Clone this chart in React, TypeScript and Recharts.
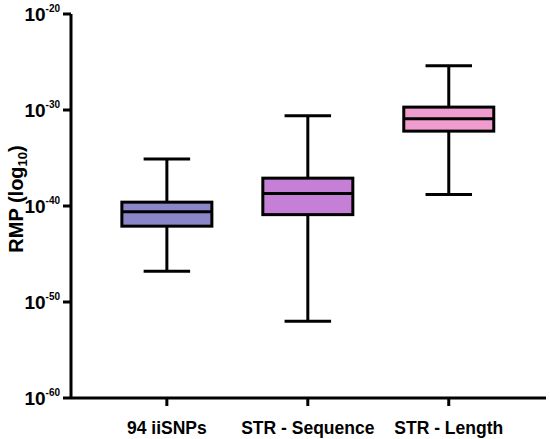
import React from 'react';
import { ComposedChart, Bar, XAxis, YAxis } from 'recharts';

const categories = ['94 iiSNPs', 'STR - Sequence', 'STR - Length'];
const positions = [1, 2, 3];
const mins = [-46.8, -52.0, -38.8];
const q1s = [-42.1, -40.9, -32.2];
const medians = [-40.6, -38.7, -30.9];
const q3s = [-39.6, -37.1, -29.7];
const maxs = [-35.1, -30.6, -25.4];
const colors = ['#8a86c8', '#c67fd6', '#f09ccf'];
const yTicks = [-60, -50, -40, -30, -20];

const data = categories.map((c, i) => ({
  name: c,
  pos: positions[i],
  range: [mins[i], maxs[i]],
  min: mins[i],
  q1: q1s[i],
  median: medians[i],
  q3: q3s[i],
  max: maxs[i],
  color: colors[i],
}));

const FONT = 'Liberation Sans, Arial, sans-serif';

const BoxShape = (props: any) => {
  const { x, y, width, height, payload } = props;
  const top = Math.min(y, y + height);
  const h = Math.abs(height);
  const bottom = top + h;
  const p = payload;
  const span = p.max - p.min;
  const toPx = (v: number) => bottom - ((v - p.min) / span) * h;
  const cx = x + width / 2;
  const capHalf = width / 4;
  const yQ3 = toPx(p.q3);
  const yQ1 = toPx(p.q1);
  const yMed = toPx(p.median);
  return (
    <g>
      <line x1={cx} x2={cx} y1={top} y2={yQ3} stroke="#000" strokeWidth={3} />
      <line x1={cx} x2={cx} y1={yQ1} y2={bottom} stroke="#000" strokeWidth={3} />
      <line x1={cx - capHalf} x2={cx + capHalf} y1={top} y2={top} stroke="#000" strokeWidth={3} />
      <line x1={cx - capHalf} x2={cx + capHalf} y1={bottom} y2={bottom} stroke="#000" strokeWidth={3} />
      <rect x={x + 1.5} y={yQ3} width={width - 3} height={yQ1 - yQ3} fill={p.color} stroke="#000" strokeWidth={3} />
      <line x1={x + 1.5} x2={x + width - 1.5} y1={yMed} y2={yMed} stroke="#000" strokeWidth={3} />
    </g>
  );
};

const YTick = (props: any) => {
  const { x, y, payload } = props;
  return (
    <text x={x - 1} y={y + 7} textAnchor="end" fontFamily={FONT} fontWeight="bold" fill="#000">
      <tspan fontSize={19}>10</tspan>
      <tspan fontSize={10} dy={-9}>{String(payload.value)}</tspan>
    </text>
  );
};

const XTick = (props: any) => {
  const { x, y, payload } = props;
  const idx = positions.indexOf(payload.value);
  return (
    <text x={x} y={y + 26} textAnchor="middle" fontFamily={FONT} fontWeight="bold" fontSize={17.5} fill="#000">
      {categories[idx]}
    </text>
  );
};

const YLabel = () => (
  <text
    transform="translate(23, 199) rotate(-90)"
    textAnchor="middle"
    fontFamily={FONT}
    fontWeight="bold"
    fontSize={20}
    fill="#000"
  >
    <tspan>RMP (log</tspan>
    <tspan fontSize={13} dy={4}>10</tspan>
    <tspan dy={-4}>)</tspan>
  </text>
);

export default function App() {
  return (
    <div style={{ position: 'absolute', left: 0, top: 0, width: 550, height: 439, background: '#fff' }}>
      <ComposedChart width={550} height={439} data={data} margin={{ top: 14, right: 4, bottom: 0, left: 0 }}>
        <XAxis
          dataKey="pos"
          type="number"
          domain={[0.32, 3.69]}
          ticks={positions}
          tick={<XTick />}
          axisLine={{ stroke: '#000', strokeWidth: 3 }}
          tickLine={{ stroke: '#000', strokeWidth: 3 }}
          tickSize={8}
          height={41}
          interval={0}
        />
        <YAxis
          type="number"
          domain={[-60, -20]}
          ticks={yTicks}
          tick={<YTick />}
          axisLine={{ stroke: '#000', strokeWidth: 3 }}
          tickLine={{ stroke: '#000', strokeWidth: 3 }}
          tickSize={8}
          width={71}
          interval={0}
          allowDataOverflow
          label={<YLabel />}
        />
        <Bar dataKey="range" barSize={93} shape={<BoxShape />} isAnimationActive={false} />
      </ComposedChart>
    </div>
  );
}
